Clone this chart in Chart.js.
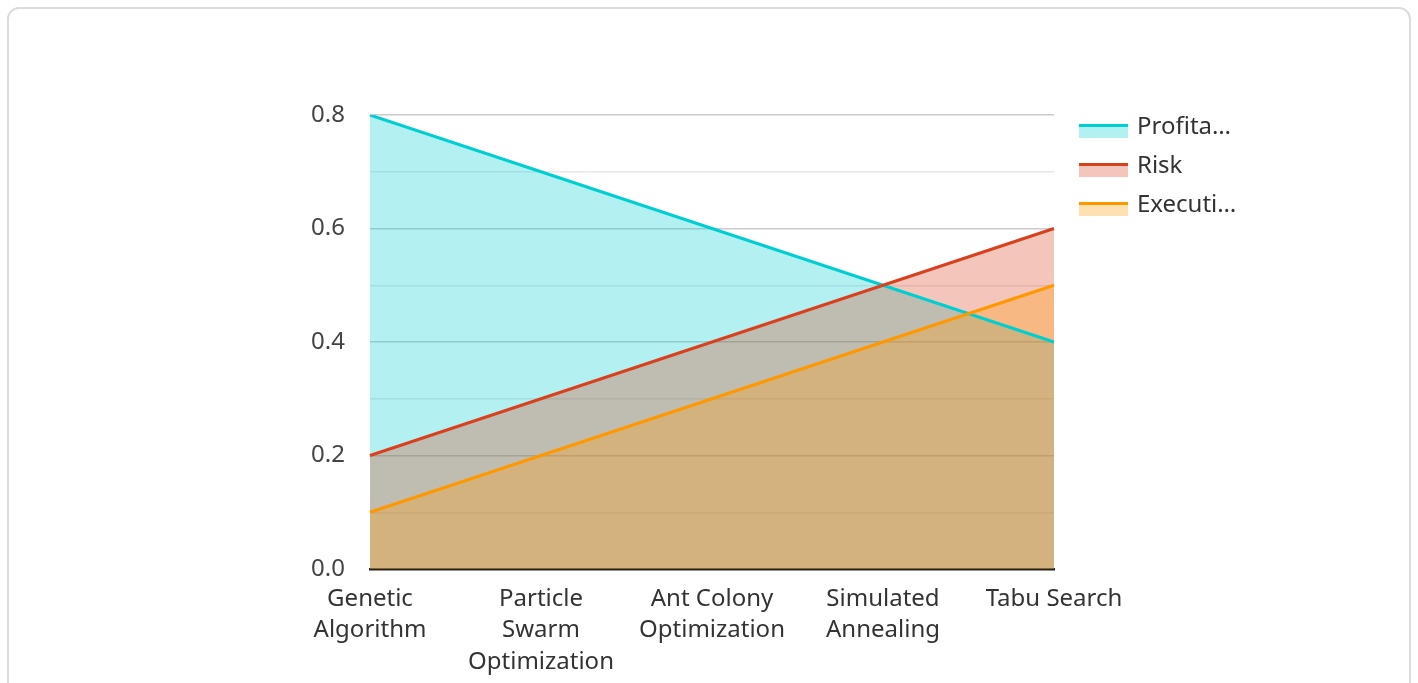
<!DOCTYPE html>
<html>
<head>
<meta charset="utf-8">
<script src="https://cdn.jsdelivr.net/npm/chart.js@4"></script>
<style>
  html, body { margin: 0; padding: 0; background: #fff; }
  body { width: 1418px; height: 683px; overflow: hidden; position: relative; }
  .card { position: absolute; left: 7px; top: 7px; width: 1404px; height: 700px;
          border: 2px solid #dcdcdc; border-radius: 12px; box-sizing: border-box; }
  #wrap { position: absolute; left: 0; top: 0; width: 1418px; height: 683px; }
</style>
</head>
<body>
<div class="card"></div>
<div id="wrap"><canvas id="chart"></canvas></div>
<script>
const categories = [
    ['Genetic', 'Algorithm'],
    ['Particle', 'Swarm', 'Optimization'],
    ['Ant Colony', 'Optimization'],
    ['Simulated', 'Annealing'],
    'Tabu Search'
]
const profitability = [0.8, 0.7, 0.6, 0.5, 0.4]
const risk = [0.2, 0.3, 0.4, 0.5, 0.6]
const executionTime = [0.1, 0.2, 0.3, 0.4, 0.5]
const legendNames = ['Profita…', 'Risk', 'Executi…']

const colors = [
    {line: '#00ced1', fill: 'rgba(0,206,209,0.3)'},
    {line: '#d9411e', fill: 'rgba(217,65,30,0.3)'},
    {line: '#ff9800', fill: 'rgba(255,152,0,0.3)'}
]

function makeSet(label, data, c, order){
    return {
        label: label,
        data: data,
        order: order,
        borderColor: c.line,
        backgroundColor: c.fill,
        borderWidth: 3,
        fill: 'origin',
        pointRadius: 0,
        pointHoverRadius: 0,
        tension: 0
    }
}

// legend drawn by hand: line on top, pale block under it
const sideLegend = {
    id: 'sideLegend',
    afterDraw(chart){
        const ctx = chart.ctx
        const x = chart.chartArea.right + 25
        ctx.save()
        legendNames.forEach((name, i) => {
            const y = 124 + i * 39
            ctx.fillStyle = colors[i].fill
            ctx.fillRect(x, y + 3, 49, 11)
            ctx.fillStyle = colors[i].line
            ctx.fillRect(x, y, 49, 3)
            ctx.fillStyle = '#333'
            ctx.font = '24px "Noto Sans"'
            ctx.textBaseline = 'middle'
            ctx.textAlign = 'left'
            ctx.fillText(name, x + 58, y + 3)
        })
        ctx.restore()
    }
}

new Chart(document.getElementById('chart'), {
    type: 'line',
    data: {
        labels: categories,
        datasets: [
            makeSet('Profitability', profitability, colors[0], 3),
            makeSet('Risk', risk, colors[1], 2),
            makeSet('Execution Time', executionTime, colors[2], 1)
        ]
    },
    plugins: [sideLegend],
    options: {
        responsive: true,
        maintainAspectRatio: false,
        animation: false,
        layout: { padding: { top: 115, right: 364, left: 0, bottom: 0 } },
        plugins: {
            legend: { display: false },
            tooltip: { enabled: false },
            filler: { drawTime: 'beforeDatasetsDraw' }
        },
        scales: {
            x: {
                offset: false,
                grid: { display: false, drawTicks: false },
                border: { display: true, color: '#222', width: 2.5 },
                ticks: {
                    color: '#333',
                    padding: 14,
                    maxRotation: 0,
                    autoSkip: false,
                    font: { family: 'Noto Sans', size: 24, lineHeight: 1.32 }
                },
                afterFit: s => { s.height = 114 }
            },
            y: {
                min: 0,
                max: 0.8,
                grid: {
                    drawTicks: false,
                    lineWidth: 1.5,
                    color: c => (Math.round(c.tick.value * 10) % 2 === 0) ? '#cccccc' : '#e8e8e8'
                },
                border: { display: false },
                ticks: {
                    stepSize: 0.1,
                    padding: 25,
                    color: '#444',
                    font: { family: 'Noto Sans', size: 24 },
                    callback: v => (Math.round(v * 10) % 2 === 0) ? v.toFixed(1) : ''
                },
                afterFit: s => { s.width = 370 }
            }
        }
    }
})
</script>
</body>
</html>
